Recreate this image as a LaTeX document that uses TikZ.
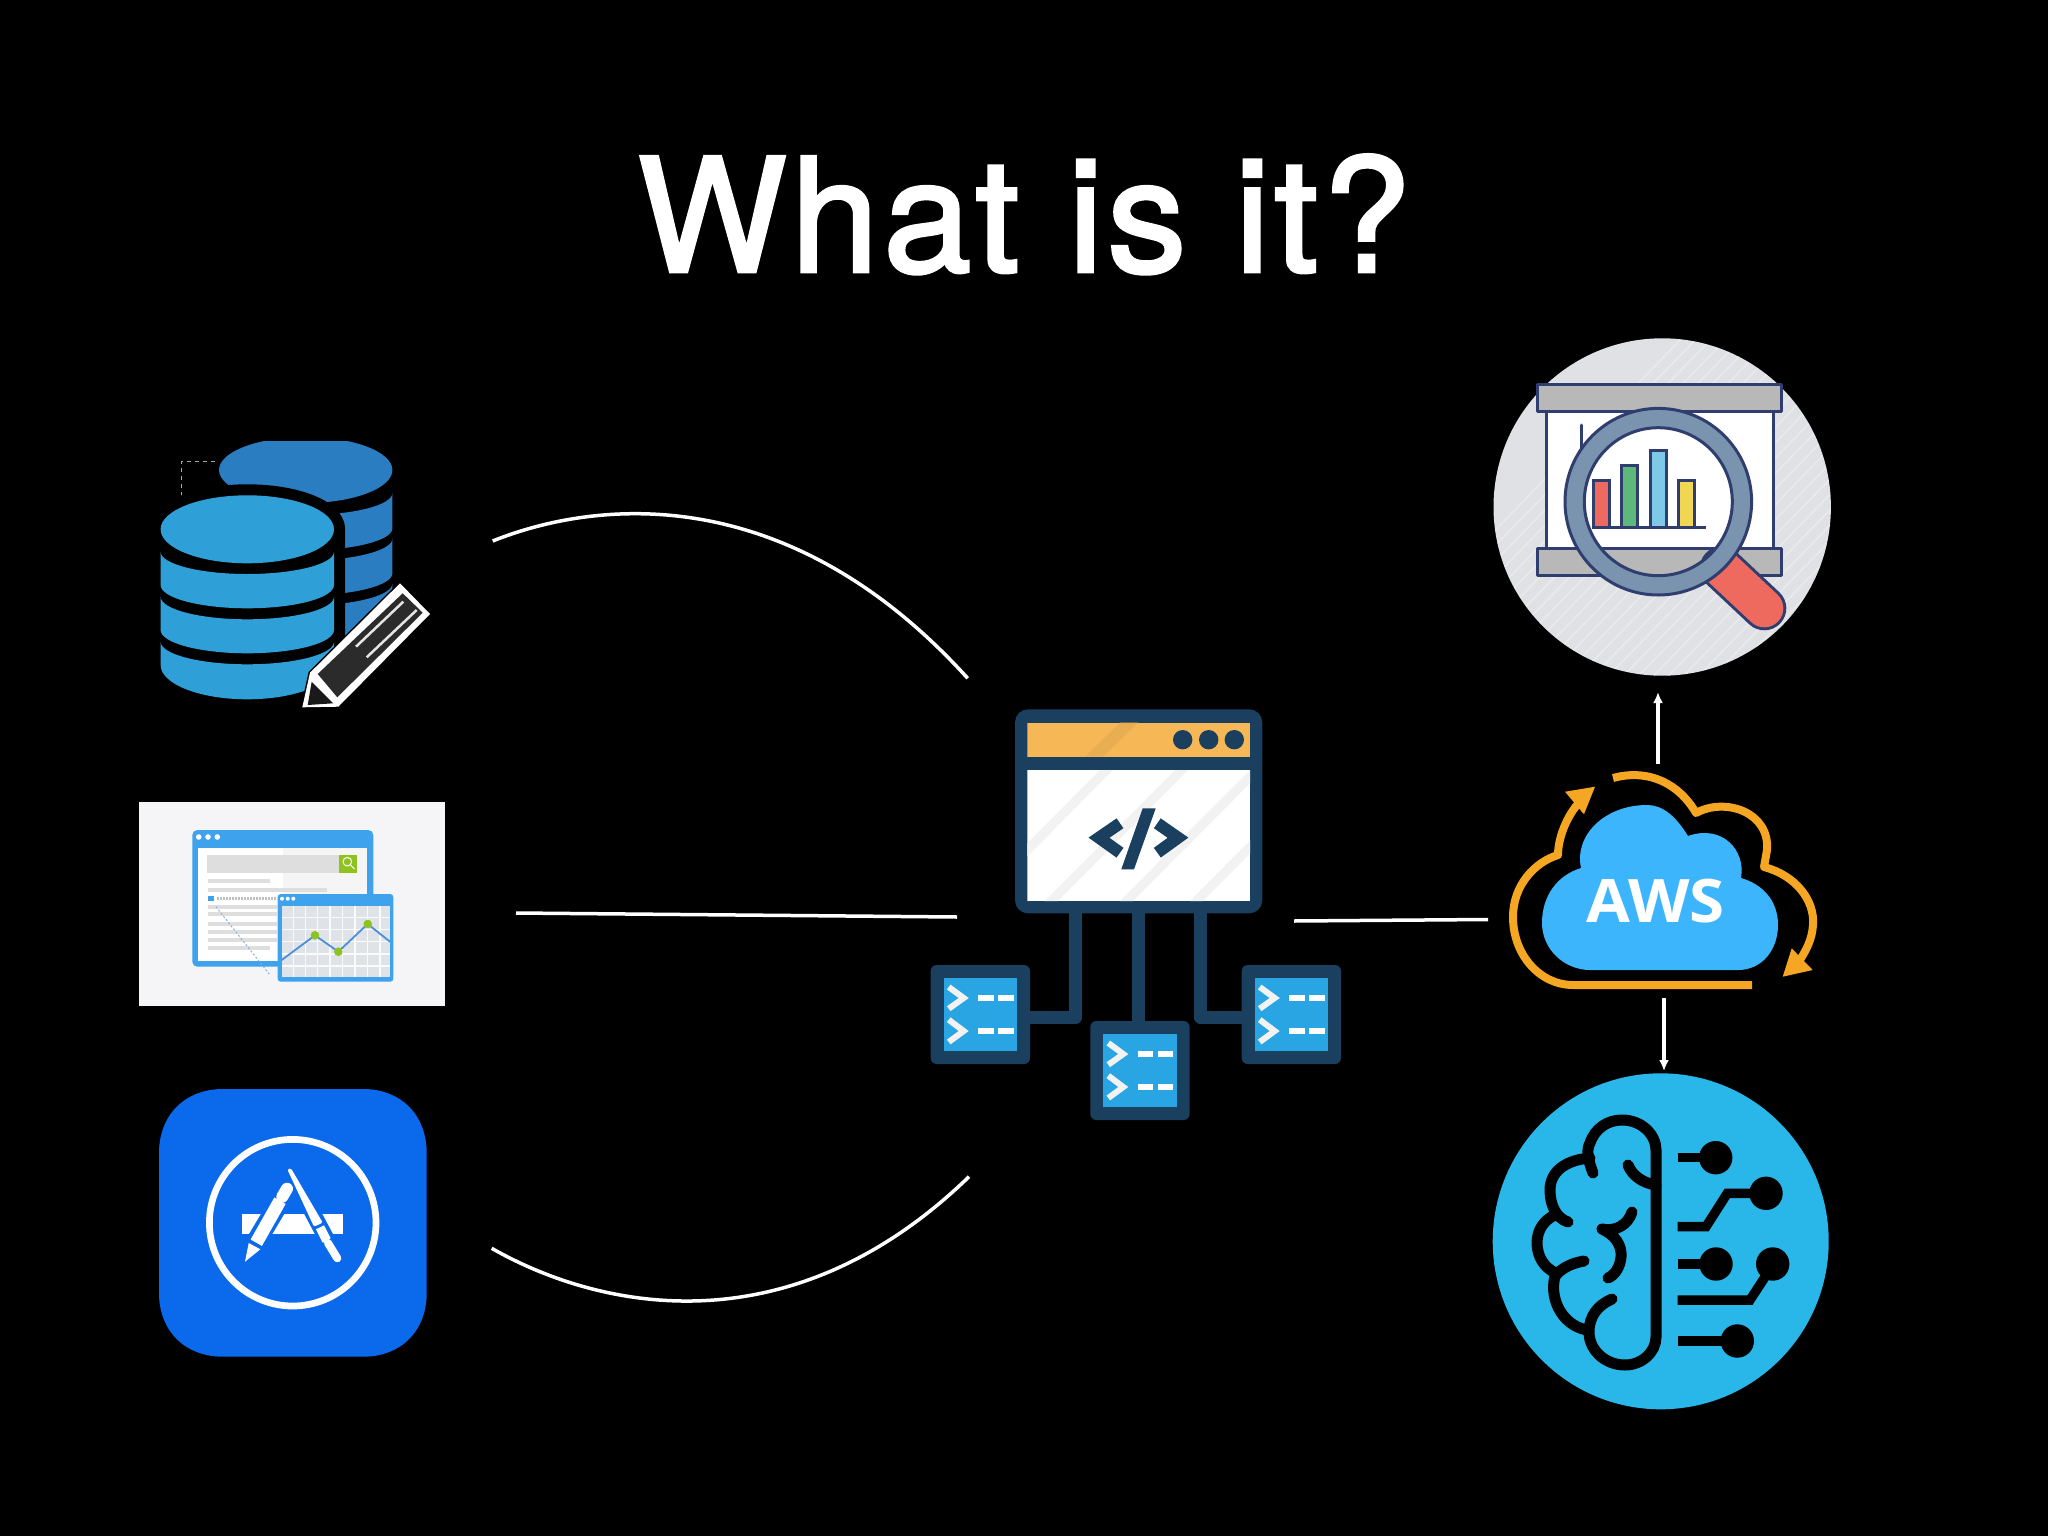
\documentclass[tikz,border=0pt]{standalone}
\usepackage{fontspec}
\setmainfont{TeX Gyre Heros}
\newfontfamily\titlefont[FakeBold=2.1,LetterSpace=2.8]{TeX Gyre Heros}
\newfontfamily\awsfont[FakeStretch=1.06]{Open Sans}
\usetikzlibrary{arrows.meta}
\definecolor{dbfront}{HTML}{2F9FD8}
\definecolor{dbback}{HTML}{2A7DC0}
\definecolor{navy}{HTML}{1B3F5E}
\definecolor{orangebar}{HTML}{F6B756}
\definecolor{termblue}{HTML}{29A5E3}
\definecolor{webblue}{HTML}{3EA2EC}
\definecolor{webpaper}{HTML}{F5F5F7}
\definecolor{webgrid}{HTML}{DFE3E8}
\definecolor{webline}{HTML}{4A90D9}
\definecolor{chartink}{HTML}{2F3E6E}
\definecolor{discgrey}{HTML}{E0E1E4}
\definecolor{barred}{HTML}{EE6A5F}
\definecolor{bargreen}{HTML}{5DB87A}
\definecolor{barblue}{HTML}{7FC9E8}
\definecolor{baryellow}{HTML}{F0D652}
\definecolor{lensring}{HTML}{7A94B0}
\definecolor{awsblue}{HTML}{3DB5FC}
\definecolor{awsorange}{HTML}{F5A623}
\definecolor{brainblue}{HTML}{29B6E8}
\definecolor{appblue}{HTML}{0A6AEB}
\definecolor{leafgreen}{HTML}{8DC21F}
\tikzset{
  wire/.style={white,line width=3.5pt},
  wiretip/.style={white,line width=3.5pt,-{Latex[length=11pt,width=10pt]}},
  ink/.style={black,line width=11pt,line cap=round,line join=round},
  trace/.style={black,line width=9.5pt},
  chartline/.style={draw=chartink,line width=3pt},
  glink/.style={navy,line width=12.7pt,line join=round},
  termmark/.style={white!95!black,line width=6pt},
  termdash/.style={white,line width=6pt},
  glyph/.style={navy,line width=12pt,line join=miter},
  ringo/.style={awsorange,line width=8pt,line join=round},
  thinbar/.style={black!13,line width=4pt}
}
\newcommand{\dbseg}[6]{% colour, cx, ytop, rytop, ybot, rybot
  \fill[#1] (#2-86.7,#3) arc[start angle=180,end angle=0,x radius=86.7,y radius=#4]
    -- (#2+86.7,#5) arc[start angle=0,end angle=180,x radius=86.7,y radius=#6] -- cycle;}
\newcommand{\termbox}[2]{%
  \begin{scope}[shift={(#1,#2)}]
    \fill[navy,rounded corners=6pt] (0,0) rectangle (99.3,99);
    \fill[termblue] (13,13) rectangle (86.5,86);
    \draw[termmark] (18,22) -- (33,33) -- (18,43.7);
    \draw[termmark] (18,54.7) -- (33,66) -- (18,77);
    \draw[termdash] (47.3,33) -- (63,33) (67.3,33) -- (83,33);
    \draw[termdash] (47.3,66) -- (63,66) (67.3,66) -- (83,66);
  \end{scope}}
\begin{document}
\begin{tikzpicture}[x=1pt,y=-1pt]
\useasboundingbox (0,0) rectangle (2048,1536);
\fill[black] (0,0) rectangle (2048,1536);

\node[white,anchor=base,inner sep=0pt] (title) at (1024,271.7)
  {\fontsize{158}{190}\selectfont\titlefont What is it?};

% ---------- database ----------
\draw[gray!70,line width=1.5pt,dash pattern=on 4pt off 4pt] (215,461.7) -- (181.7,461.7) -- (181.7,501.7);
\begin{scope}
  \clip (200,441) rectangle (400,720);
  \fill[dbback] (305.7,470) ellipse[x radius=86.7,y radius=33];
\end{scope}
\dbseg{dbback}{305.7}{493}{22}{528.3}{22}
\dbseg{dbback}{305.7}{538.5}{22}{573.3}{22}
\dbseg{dbback}{305.7}{583.5}{22}{650}{22}
\fill[black] (160.7,529.3) arc[start angle=180,end angle=360,x radius=86.7,y radius=34]
  -- (334,665) arc[start angle=0,end angle=180,x radius=86.7,y radius=34.3] -- cycle;
\draw[black,line width=22pt,line join=round] (160.7,529.3) arc[start angle=180,end angle=360,x radius=86.7,y radius=34]
  -- (334,665) arc[start angle=0,end angle=180,x radius=86.7,y radius=34.3] -- cycle;
\fill[dbfront] (247.3,529.3) ellipse[x radius=86.7,y radius=34];
\dbseg{dbfront}{247.3}{551.7}{22.3}{585}{23.3}
\dbseg{dbfront}{247.3}{596.7}{22.6}{630}{23.3}
\dbseg{dbfront}{247.3}{641.7}{22.6}{665}{34.3}
\draw[black,line width=3pt,line join=miter] (302.3,707.3) -- (310,672.7) -- (400,583.3) -- (430,614) -- (338.3,706.7) -- cycle;
\fill[white] (302.3,707.3) -- (310,672.7) -- (400,583.3) -- (430,614) -- (338.3,706.7) -- cycle;
\fill[black!83] (317.7,674) -- (402.7,593.3) -- (422.7,612.7) -- (337.3,697.3) -- cycle;
\fill[black!90] (307.7,705) -- (311.7,681.7) -- (333.3,703.3) -- cycle;
\draw[white!90!black,line width=2.5pt] (356,646.7) -- (403.3,601.7) (366.7,657.3) -- (416.7,610);

% ---------- web page ----------
\fill[webpaper] (139.3,802.3) rectangle (445.3,1006);
\fill[webblue,rounded corners=5pt] (192.3,830) rectangle (373.3,966.7);
\fill[white] (198.3,848.3) rectangle (367.3,960.7);
\fill[black!4] (283.3,848.3) rectangle (367.3,960.7);
\foreach \dx in {198.7,208,217.3} \fill[white] (\dx,837) circle[radius=2.8];
\fill[black!13] (207.3,855) rectangle (339.3,872.7);
\fill[leafgreen] (339.3,855) rectangle (357.3,872.7);
\draw[white,line width=1pt] (347.3,861.7) circle[radius=4.3] (350.5,865) -- (354.5,869);
\draw[thinbar,line width=4.5pt] (208,881) -- (270,881);
\draw[thinbar,line width=3.5pt] (208,890) -- (326.7,890);
\fill[webblue] (208,895.7) rectangle (214,901);
\draw[black!25,line width=3pt,dash pattern=on 2pt off 1pt] (217.3,898.3) -- (277,898.3);
\foreach \ly in {906.7,914,924,932,940} \draw[thinbar] (208,\ly) -- (277,\ly);
\draw[thinbar] (208,948) -- (270,948);
\draw[webline!70,line width=1pt,dash pattern=on 2pt off 2pt] (216,906.7) -- (270,975);
\fill[webblue,rounded corners=3pt] (277.7,894) rectangle (393.3,981.7);
\fill[webgrid] (281.7,905.7) rectangle (390,976.7);
\foreach \gx in {293.3,305.7,317.7,330,342.3,355,367.3,380} \draw[white!85!webgrid,line width=1.1pt] (\gx,905.7) -- (\gx,976.7);
\foreach \gy in {917.3,929.3,941.7,954,966} \draw[white!85!webgrid,line width=1.1pt] (281.7,\gy) -- (390,\gy);
\foreach \dx in {282,287.7,293.3} \fill[white] (\dx,898.7) circle[radius=2];
\draw[webline,line width=1.8pt] (281.7,960) -- (315,935.3) -- (338.3,951.7) -- (367.7,924) -- (390,941.7);
\foreach \px/\py in {315/935.3,338.3/951.7,367.7/924} \fill[leafgreen] (\px,\py) circle[radius=4.3];

% ---------- app store ----------
\fill[appblue] (223,1089) -- (363,1089) .. controls (401,1089) and (426.7,1115) .. (426.7,1153)
  -- (426.7,1293) .. controls (426.7,1331) and (401,1356.7) .. (363,1356.7)
  -- (223,1356.7) .. controls (185,1356.7) and (159,1331) .. (159,1293)
  -- (159,1153) .. controls (159,1115) and (185,1089) .. (223,1089) -- cycle;
\draw[white,line width=6.7pt] (292.7,1222.7) circle[radius=83.3];
\fill[white] (242.3,1214.3) rectangle (342.7,1234.3);
\draw[appblue,line width=20pt] (250,1252) -- (288,1188);
\draw[appblue,line width=16pt] (290,1170) -- (335,1255);
\fill[white] (245,1261.7) -- (248.7,1243) -- (260.3,1249.3) -- cycle;
\draw[white,line width=13pt] (256.3,1242.7) -- (280,1200.7);
\draw[white,line width=12pt,line cap=round] (282.3,1196.7) -- (287,1188.7);
\fill[white,rounded corners=1.5pt] (287.3,1169.3) -- (291,1168.3) -- (322.7,1222.7) -- (314,1226.7) -- cycle;
\fill[white] (316,1229.3) -- (324,1225.3) -- (330.7,1238.3) -- (322.7,1242.7) -- cycle;
\draw[white,line width=8pt,line cap=round] (328,1243) -- (337.3,1258.3);

% ---------- code window ----------
\fill[navy,rounded corners=13pt] (1015,709.3) rectangle (1262.3,913.3);
\begin{scope}
  \clip (1027.3,722.7) rectangle (1250,756.7);
  \fill[orangebar] (1027.3,722.7) rectangle (1250,756.7);
  \fill[orangebar!95!black] (1085,756.7) -- (1120,722.7) -- (1138,722.7) -- (1103,756.7) -- cycle;
\end{scope}
\begin{scope}
  \clip (1027.3,770) rectangle (1250,901);
  \fill[white] (1027.3,770) rectangle (1250,901);
  \foreach \sx in {1030,1105,1180,1250}
    \fill[black!5] (\sx-60,901) -- (\sx+70,770) -- (\sx+83,770) -- (\sx-47,901) -- cycle;
\end{scope}
\draw[glyph] (1120,823.3) -- (1099,837.7) -- (1120,852.7);
\draw[glyph] (1157.3,823.3) -- (1178,837.7) -- (1157.3,852.7);
\fill[navy] (1142.7,808.3) -- (1155.7,808.3) -- (1134,869.3) -- (1121.3,869.3) -- cycle;
\foreach \dx in {1182.7,1208.7,1234.3} \fill[navy] (\dx,739.7) circle[radius=9.7];
\draw[glink] (1075.7,905) -- (1075.7,1017.7) -- (1025,1017.7);
\draw[glink] (1138.3,905) -- (1138.3,1025);
\draw[glink] (1200.3,905) -- (1200.3,1017.7) -- (1245,1017.7);
\termbox{930.7}{965}
\termbox{1090.3}{1021}
\termbox{1241.7}{965}

% ---------- report circle ----------
\begin{scope}
  \clip (1662.2,507) circle[radius=168.7];
  \fill[discgrey] (1490,335) rectangle (1835,680);
  \foreach \sk in {0,1,...,48}
    \draw[white,opacity=.3,line width=1.5pt] (1330+\sk*15,700) -- (1690+\sk*15,330);
\end{scope}
\fill[white] (1546.7,411.7) rectangle (1773.3,548.3);
\draw[chartline] (1546.7,411.7) rectangle (1773.3,548.3);
\draw[chartline,fill=black!28,line join=round] (1537.3,384) rectangle (1781.7,411.7);
\draw[chartline,fill=black!28,line join=round] (1537.3,548.3) rectangle (1781.7,575);
\draw[chartink,line width=3pt,line cap=round] (1581,425) -- (1581,448);
\draw[chartline,fill=barred] (1593.3,480) rectangle (1609.3,527);
\draw[chartline,fill=bargreen] (1621.7,465) rectangle (1637.7,527);
\draw[chartline,fill=barblue] (1650,450) rectangle (1666,527);
\draw[chartline,fill=baryellow] (1678.3,480) rectangle (1694.3,527);
\draw[chartink,line width=3pt] (1593.3,527.7) -- (1706,527.7);
\draw[chartink,line width=44pt,line cap=round] (1721.7,568.3) -- (1764.3,608.3);
\draw[barred,line width=38pt,line cap=round] (1721.7,568.3) -- (1764.3,608.3);
\draw[chartline,fill=lensring,even odd rule] (1658.3,501.7) circle[radius=93.3] (1658.3,501.7) circle[radius=74];

% ---------- aws cloud ----------
\fill[awsblue] (1590,970) -- (1738,970) .. controls (1762,970) and (1778,950) .. (1778,925)
  .. controls (1778,900) and (1762,884) .. (1741,878)
  .. controls (1746,850) and (1722,824) .. (1688,836)
  .. controls (1675,815) and (1662,805) .. (1647,805)
  .. controls (1605,805) and (1574,835) .. (1581,868)
  .. controls (1558,875) and (1542,895) .. (1542,923)
  .. controls (1542,950) and (1565,970) .. (1590,970) -- cycle;
\draw[ringo] (1752,985) -- (1573,985) .. controls (1540,985) and (1513,955) .. (1513,917)
  .. controls (1513,885) and (1535,862) .. (1558,855)
  .. controls (1558,835) and (1570,810) .. (1582,800);
\fill[awsorange] (1595,786.7) -- (1565,791.7) -- (1584,814.3) -- cycle;
\draw[ringo] (1613,778) .. controls (1650,768) and (1680,785) .. (1696,813)
  .. controls (1725,797) and (1770,812) .. (1767,850) -- (1764,867)
  .. controls (1795,875) and (1815,900) .. (1813,925)
  .. controls (1812,940) and (1806,950) .. (1800,960);
\fill[awsorange] (1791.7,948.3) -- (1812.7,970) -- (1782.7,976.7) -- cycle;
\node[white,anchor=base,inner sep=0pt] (aws) at (1655.7,922.7)
  {\fontsize{60}{72}\selectfont\awsfont\bfseries AWS};

% ---------- brain circle ----------
\fill[brainblue] (1660.7,1241.3) circle[radius=168];
\draw[ink] (1593,1173) .. controls (1588,1160) and (1586,1150) .. (1590,1143)
  .. controls (1595,1128) and (1608,1120) .. (1622,1120)
  .. controls (1642,1120) and (1656,1135) .. (1656,1150) -- (1656,1337)
  .. controls (1656,1352) and (1642,1365) .. (1625,1365)
  .. controls (1605,1365) and (1589,1350) .. (1589,1332)
  .. controls (1589,1316) and (1598,1305) .. (1612,1299);
\draw[ink] (1590,1158) .. controls (1565,1160) and (1550,1172) .. (1550,1190)
  .. controls (1550,1205) and (1556,1218) .. (1568,1222);
\draw[ink] (1555,1215) .. controls (1544,1220) and (1537,1230) .. (1537,1243)
  .. controls (1537,1256) and (1544,1268) .. (1556,1273);
\draw[ink] (1556,1275) .. controls (1562,1268) and (1572,1263) .. (1584,1261);
\draw[ink] (1556,1273) .. controls (1548,1295) and (1560,1325) .. (1587,1330);
\draw[ink] (1628,1165) .. controls (1632,1175) and (1642,1183) .. (1656,1185);
\draw[ink] (1632,1212) .. controls (1628,1225) and (1615,1232) .. (1602,1229);
\draw[ink] (1602,1229) .. controls (1615,1235) and (1622,1245) .. (1621,1257)
  .. controls (1620,1267) and (1615,1275) .. (1608,1278);
\draw[trace] (1677.7,1157.7) -- (1714,1157.7);
\draw[trace] (1677.7,1226.7) -- (1706,1226.7) -- (1727.3,1193.3) -- (1764,1193.3);
\draw[trace] (1677.7,1264) -- (1714,1264);
\draw[trace] (1677.7,1300) -- (1750,1300) -- (1771.7,1266.7);
\draw[trace] (1677.7,1341) -- (1735,1341);
\foreach \cx/\cy in {1715.7/1157.7,1766/1193.3,1716/1264,1772.7/1264,1737.3/1341}
  \fill[black] (\cx,\cy) circle[radius=16.7];

% ---------- connectors ----------
\coordinate (dbEnd) at (492.7,541);
\coordinate (codeA) at (967.7,678.3);
\coordinate (appEnd) at (491.7,1248.3);
\coordinate (codeC) at (969,1176.7);
\coordinate (webEnd) at (516,913);
\coordinate (codeB) at (957,917);
\coordinate (codeR) at (1294,921);
\coordinate (awsL) at (1488,919.5);
\coordinate (awsT) at (1658,764);
\coordinate (repB) at (1658,692);
\coordinate (awsB) at (1664,998);
\coordinate (brT) at (1664,1071);
\draw[wire] (dbEnd) .. controls (600,498) and (790,482) .. (codeA);
\draw[wire] (appEnd) .. controls (600,1310) and (790,1350) .. (codeC);
\draw[wire] (webEnd) -- (codeB);
\draw[wire] (codeR) -- (awsL);
\draw[wiretip] (awsT) -- (repB);
\draw[wiretip] (awsB) -- (brT);
\end{tikzpicture}
\end{document}
